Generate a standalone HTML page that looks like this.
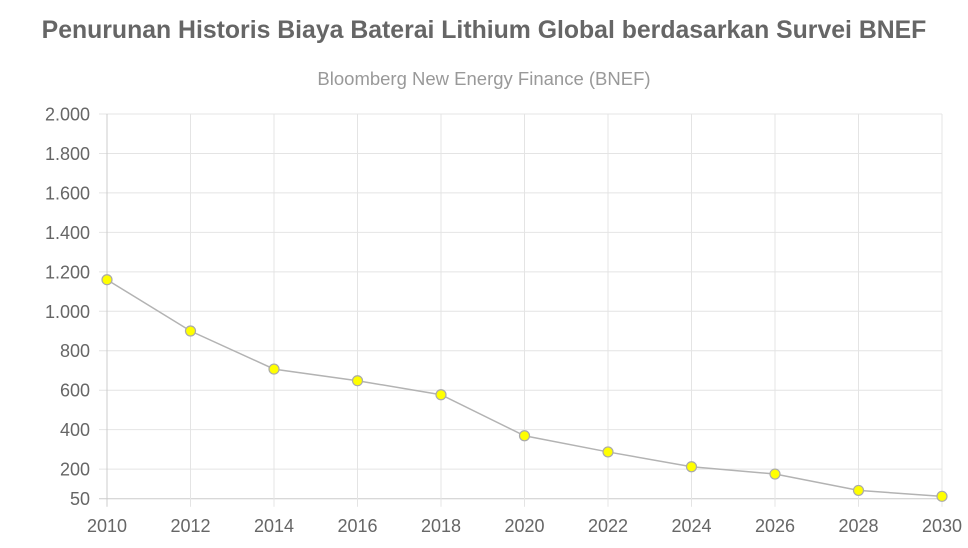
<!DOCTYPE html>
<html><head><meta charset="utf-8"><style>
body{margin:0;background:#fff;font-family:"Liberation Sans",Arial,sans-serif}
</style></head><body>
<svg id="chart" width="968" height="543" xmlns="http://www.w3.org/2000/svg" font-family="Liberation Sans, Arial, sans-serif">
<text x="484" y="38" text-anchor="middle" font-size="24.8" font-weight="bold" fill="#666">Penurunan Historis Biaya Baterai Lithium Global berdasarkan Survei BNEF</text>
<text x="484" y="85" text-anchor="middle" font-size="18.5" fill="#999">Bloomberg New Energy Finance (BNEF)</text>
<g id="grid"></g><g id="series"></g>
</svg>
<script>
const years=[2010,2012,2014,2016,2018,2020,2022,2024,2026,2028,2030];
const costs=[1160,900,707,648,577,369,287,212,175,92,62];
const yTicks=[50,200,400,600,800,1000,1200,1400,1600,1800,2000];
const yTickLabels=["50","200","400","600","800","1.000","1.200","1.400","1.600","1.800","2.000"];
const X0=107,X1=942,Y0=498.7,Y1=114;
const xs=v=>X0+(v-2010)/(2030-2010)*(X1-X0);
const ys=v=>Y0-(v-50)/(2000-50)*(Y0-Y1);
const NS="http://www.w3.org/2000/svg";
const grid=document.getElementById('grid'),ser=document.getElementById('series');
function mk(tag,attrs,parent){const e=document.createElementNS(NS,tag);for(const k in attrs)e.setAttribute(k,attrs[k]);parent.appendChild(e);return e;}
yTicks.forEach((t,i)=>{
  const y=ys(t);
  const l=mk('line',{x1:X0-8,x2:X1,y1:y,y2:y,stroke:i===0?'#ccc':'#e4e4e4','stroke-width':1},grid);
  
  
  const tx=mk('text',{x:90,y:y+6.5,'text-anchor':'end','font-size':18,fill:'#666'},grid);
  tx.textContent=yTickLabels[i];
  
  
});
years.forEach(yr=>{
  const x=xs(yr);
  const l=mk('line',{x1:x,x2:x,y1:Y1,y2:Y0+8,stroke:yr===2010?'#ccc':'#e4e4e4','stroke-width':1},grid);
  
  
  const tx=mk('text',{x:x,y:532,'text-anchor':'middle','font-size':18,fill:'#666'},grid);
  tx.textContent=String(yr);
  
  
});
const pl=mk('polyline',{points:years.map((y,i)=>xs(y)+','+ys(costs[i])).join(' '),fill:'none',stroke:'#b3b3b3','stroke-width':1.5},ser);


years.forEach((y,i)=>{
  const c=mk('circle',{cx:xs(y),cy:ys(costs[i]),r:5,fill:'#ffff00',stroke:'#aaa','stroke-width':1.2},ser);
  
  
});
</script>
</body></html>
